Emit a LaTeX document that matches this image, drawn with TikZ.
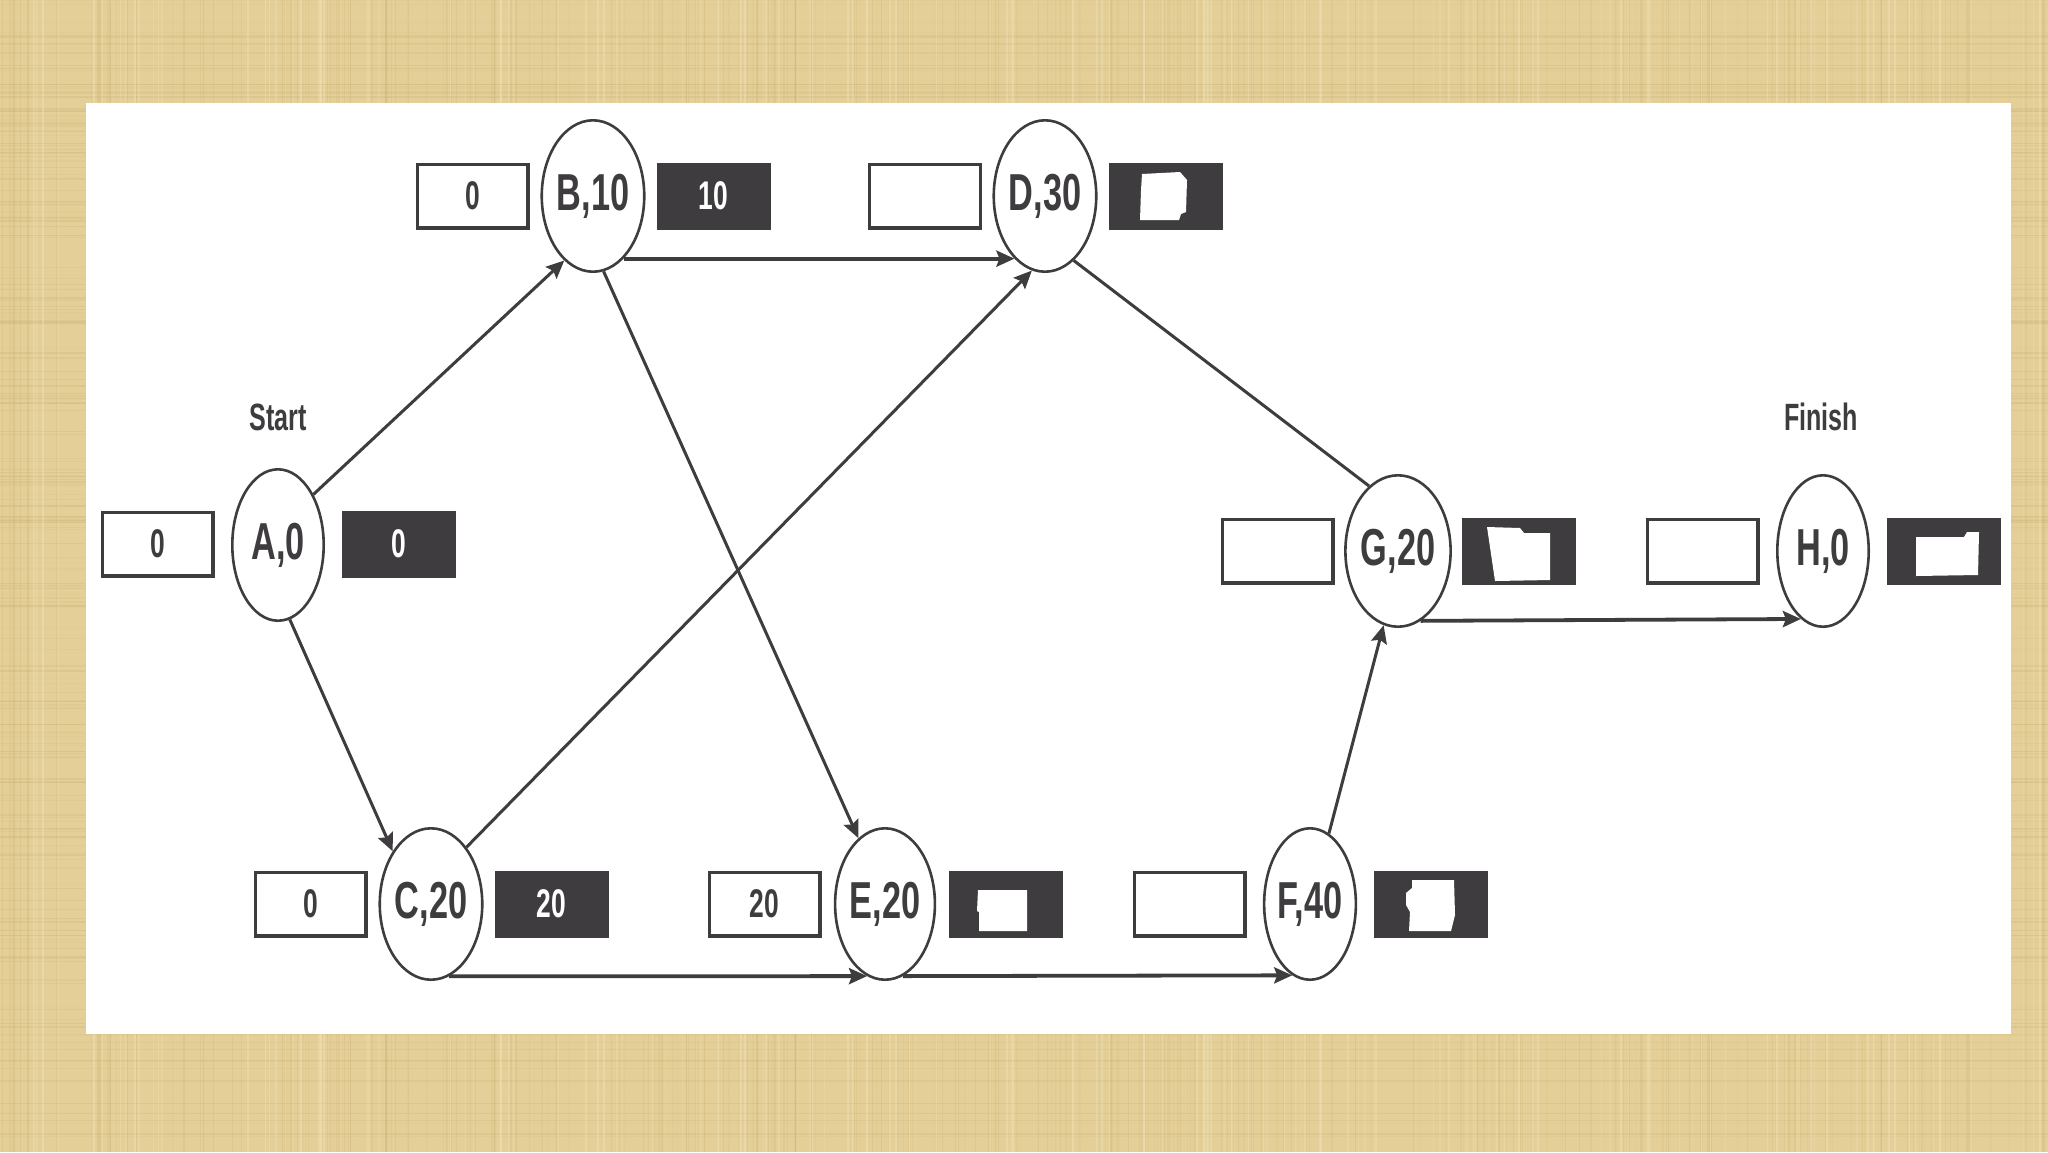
\documentclass[tikz,border=0pt]{standalone}
\usepackage{fontspec}
\usetikzlibrary{shapes.geometric,arrows.meta}
\newfontfamily\lblfont{Liberation Sans}[FakeStretch=0.66]
\definecolor{ink}{HTML}{3E3C3F}
\definecolor{tanbg}{HTML}{E4CF98}
\definecolor{tandark}{HTML}{C2A766}
\definecolor{tanlight}{HTML}{F3E6BE}
\begin{document}
\begin{tikzpicture}[x=0.5pt,y=-0.5pt,
  act/.style={ellipse, draw=ink, line width=1.3pt, fill=white, minimum width=45.7pt, minimum height=75.7pt, inner sep=0pt, text=ink, font=\lblfont\bfseries\fontsize{26}{26}\selectfont},
  ebox/.style={rectangle, draw=ink, line width=1.7pt, fill=white, minimum width=55.3pt, minimum height=31.8pt, inner sep=0pt, text=ink, font=\lblfont\bfseries\fontsize{20}{20}\selectfont},
  lbox/.style={rectangle, fill=ink, minimum width=57pt, minimum height=33.5pt, inner sep=0pt, text=white, font=\lblfont\bfseries\fontsize{20}{20}\selectfont},
  ttl/.style={text=ink, inner sep=0pt, font=\lblfont\bfseries\fontsize{19}{19}\selectfont},
  arr/.style={draw=ink, line width=1.5pt, -{Stealth[length=9pt,width=8pt,inset=1.5pt]}},
  harr/.style={arr, line width=1.9pt},
  plain/.style={draw=ink, line width=1.5pt},
  patch/.style={fill=white, draw=none}]
\useasboundingbox (0,0) rectangle (2048,1152);
% textured background
\fill[tanbg] (0,0) rectangle (2048,1152);
\pgfmathsetseed{7}
\foreach \i in {1,...,220}{
  \pgfmathsetmacro\yy{rnd*1152}
  \pgfmathsetmacro\oo{0.05+0.18*rnd}
  \draw[tandark, opacity=\oo, line width=0.6pt] (0,\yy) -- (2048,\yy);
}
\foreach \i in {1,...,300}{
  \pgfmathsetmacro\xx{rnd*2048}
  \pgfmathsetmacro\oo{0.05+0.16*rnd}
  \draw[tandark, opacity=\oo, line width=0.6pt] (\xx,0) -- (\xx,1152);
}
\foreach \i in {1,...,160}{
  \pgfmathsetmacro\xx{rnd*2048}
  \pgfmathsetmacro\oo{0.15+0.25*rnd}
  \draw[tanlight, opacity=\oo, line width=0.8pt] (\xx,0) -- (\xx,1152);
}
% white panel
\fill[white] (86,103) rectangle (2011,1034);

% activity nodes
\node[act] (A) at (278,545) {A,0};
\node[act] (B) at (593,196) {B,10};
\node[act] (D) at (1045,196) {D,30};
\node[act] (C) at (431,904) {C,20};
\node[act] (E) at (885,904) {E,20};
\node[act] (F) at (1310,904) {F,40};
\node[act] (G) at (1398,551) {G,20};
\node[act] (H) at (1823,551) {H,0};

% labels
\node[ttl] (start) at (278,417) {Start};
\node[ttl] (finish) at (1821,417) {Finish};

% boxes
\node[ebox] (Aes) at (157.5,544) {0};
\node[lbox] (Aef) at (398.5,544) {0};
\node[ebox] (Bes) at (472.5,196) {0};
\node[lbox] (Bef) at (713.5,196) {10};
\node[ebox] (Des) at (925,196) {};
\node[lbox] (Def) at (1166,196) {};
\node[ebox] (Ces) at (310.5,904) {0};
\node[lbox] (Cef) at (551.5,904) {20};
\node[ebox] (Ees) at (764.5,904) {20};
\node[lbox] (Eef) at (1005.5,904) {};
\node[ebox] (Fes) at (1189.5,904) {};
\node[lbox] (Fef) at (1430.5,904) {};
\node[ebox] (Ges) at (1277.5,551) {};
\node[lbox] (Gef) at (1518.5,551) {};
\node[ebox] (Hes) at (1702.5,551) {};
\node[lbox] (Hef) at (1943.5,551) {};

% white patches in dark boxes
\fill[patch] (1142,174) -- (1180,172) -- (1187,180) -- (1186,212) -- (1181,214) -- (1179,220) -- (1140,220) -- (1141,190) -- cycle;
\fill[patch] (1487,527) -- (1520,528) -- (1524,533) -- (1550,533) -- (1550,580) -- (1495,581) -- cycle;
\fill[patch] (1916,537) -- (1964,537) -- (1967,532) -- (1979,532) -- (1978,575) -- (1916,576) -- cycle;
\fill[patch] (978,890) -- (1027,890) -- (1027,931) -- (979,931) -- (979,912) -- (977,911) -- cycle;
\fill[patch] (1412,880) -- (1454,880) -- (1455,915) -- (1451,931) -- (1409,931) -- (1410,912) -- (1406,905) -- (1406,893) -- (1412,888) -- cycle;

% connectors
\draw[arr] (A.55) -- (B.246);
\draw[arr] (A.-81) -- (C.126);
\draw[harr] (B.-64) -- (D.-116);
\draw[arr] (B.-82) -- (E.112);
\draw[arr] (C.58) -- (D.260);
\draw[harr] (C.-76) -- (E.-104);
\draw[harr] (E.-76) -- (F.-104);
\draw[arr] (F.75) -- (G.259);
\draw[plain] (D.-66) -- (G.114);
\draw[harr] (G.-72) -- (H.-108);
\end{tikzpicture}
\end{document}
